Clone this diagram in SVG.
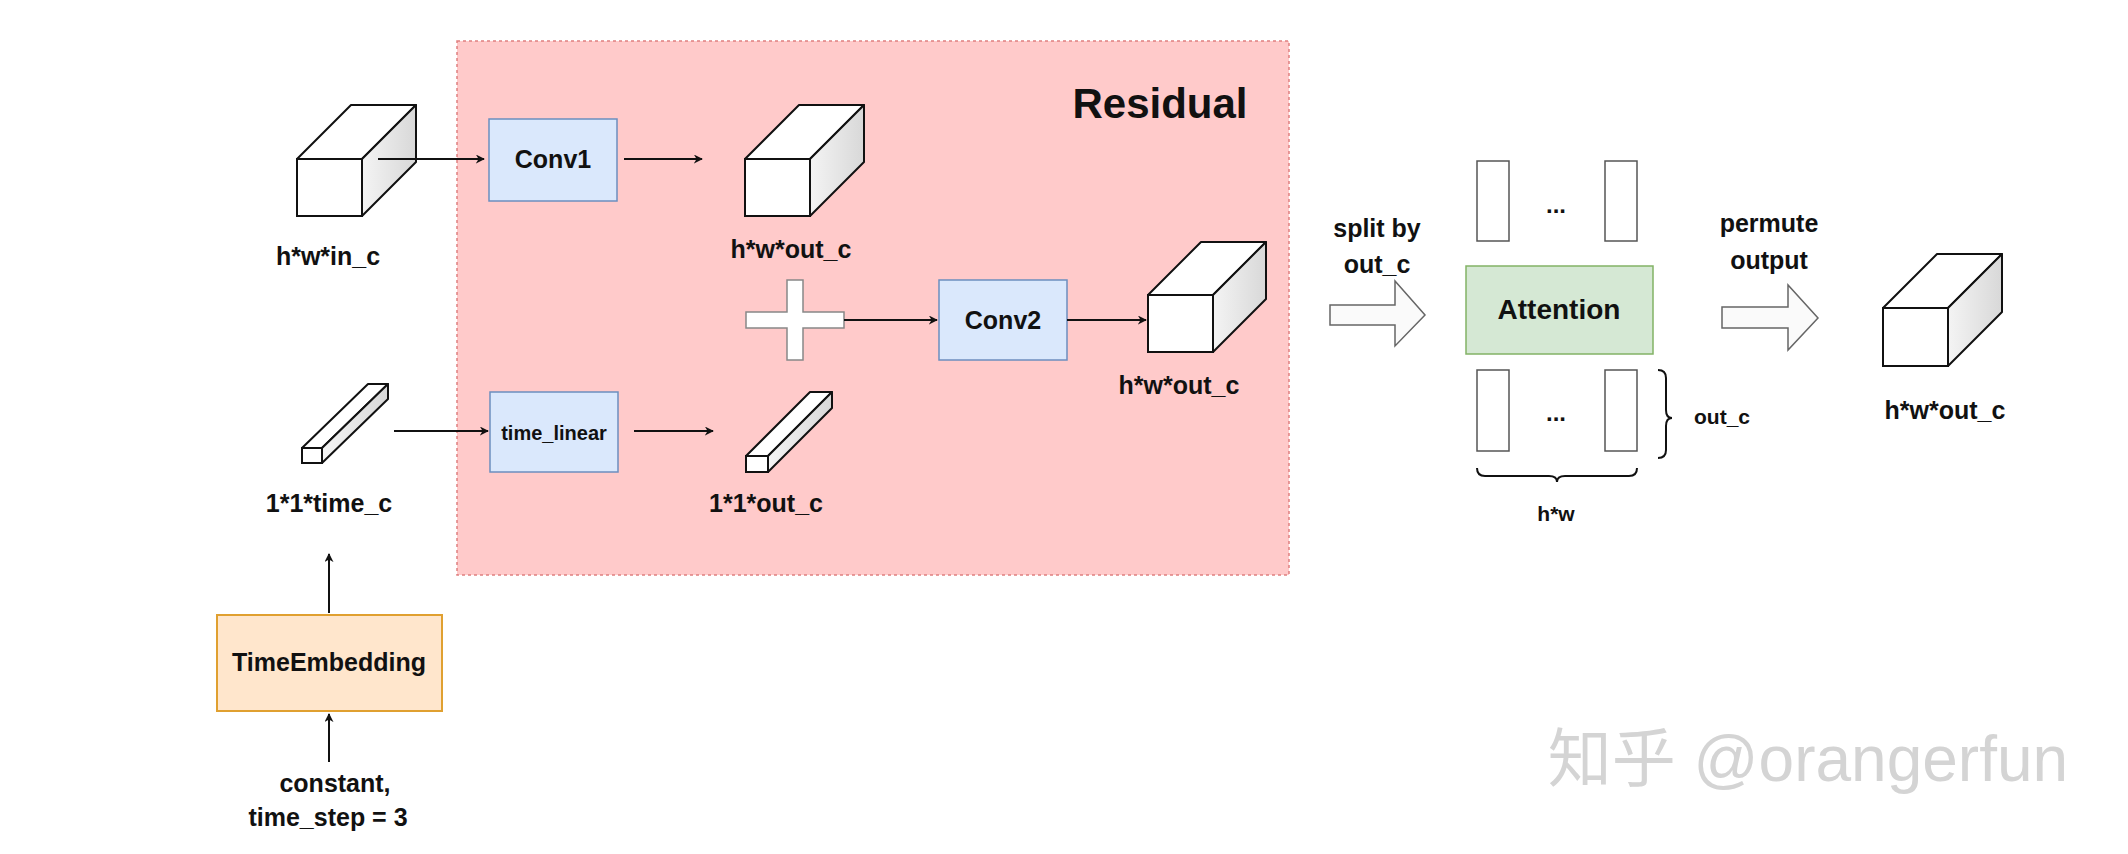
<svg xmlns="http://www.w3.org/2000/svg" width="2128" height="854" viewBox="0 0 2128 854">
<style>
text{font-family:"Liberation Sans",Arial,sans-serif;font-weight:bold;fill:#111;text-anchor:middle}
.lbl{font-size:25px}
.front{fill:#fff;stroke:#111;stroke-width:2}
.top{fill:#fff;stroke:#111;stroke-width:2;stroke-linejoin:round}
.side{fill:url(#sg);stroke:#111;stroke-width:2;stroke-linejoin:round}
.blue{fill:#dae8fc;stroke:#6c8ebf;stroke-width:1.5}
.ln{stroke:#111;stroke-width:2;fill:none}
.bar{fill:#fff;stroke:#555;stroke-width:1.5}
.hollow{fill:#fafafa;stroke:#666;stroke-width:1.5}
</style>
<defs>
<linearGradient id="sg" x1="0" y1="0" x2="1" y2="0"><stop offset="0" stop-color="#f4f4f4"/><stop offset="1" stop-color="#d8d8d8"/></linearGradient>
<marker id="ah" viewBox="0 0 10 10" refX="9" refY="5" markerWidth="9" markerHeight="9" orient="auto" markerUnits="userSpaceOnUse"><path d="M0,0 L10,5 L0,10 L3,5 Z" fill="#111"/></marker>
</defs>
<rect width="2128" height="854" fill="#fff"/>
<g id="residual">
<rect x="457" y="41" width="832" height="534" fill="#ffcaca" stroke="#e08080" stroke-width="1.5" stroke-dasharray="3,3"/>
<text x="1160" y="118" style="font-size:42px">Residual</text>
</g>
<g id="cube_in">
<rect class="front" x="297" y="159" width="65" height="57"/>
<polygon class="top" points="297,159 351,105 416,105 362,159"/>
<polygon class="side" points="362,159 416,105 416,162 362,216"/>
<text class="lbl" x="328" y="265">h*w*in_c</text>
</g>
<g id="conv1"><rect class="blue" x="489" y="119" width="128" height="82"/><text x="553" y="168" style="font-size:25px">Conv1</text></g>
<g id="cube_mid">
<rect class="front" x="745" y="159" width="65" height="57"/>
<polygon class="top" points="745,159 799,105 864,105 810,159"/>
<polygon class="side" points="810,159 864,105 864,162 810,216"/>
<text class="lbl" x="791" y="258">h*w*out_c</text>
</g>
<g id="plus"><path d="M787,280 H803 V312 H844 V328 H803 V360 H787 V328 H746 V312 H787 Z" fill="#fff" stroke="#888" stroke-width="1.5"/></g>
<g id="conv2"><rect class="blue" x="939" y="280" width="128" height="80"/><text x="1003" y="329" style="font-size:25px">Conv2</text></g>
<g id="cube_res">
<rect class="front" x="1148" y="295" width="65" height="57"/>
<polygon class="top" points="1148,295 1201,242 1266,242 1213,295"/>
<polygon class="side" points="1213,295 1266,242 1266,299 1213,352"/>
<text class="lbl" x="1179" y="394">h*w*out_c</text>
</g>
<g id="bar_time">
<rect class="front" x="302" y="448" width="20" height="15" stroke-width="1.5"/>
<polygon class="top" points="302,448 368,384 388,384 322,448" stroke-width="1.5"/>
<polygon class="side" points="322,448 388,384 388,399 322,463" stroke-width="1.5"/>
<text class="lbl" x="329" y="512">1*1*time_c</text>
</g>
<g id="time_linear"><rect class="blue" x="490" y="392" width="128" height="80"/><text x="554" y="440" style="font-size:20px">time_linear</text></g>
<g id="bar_out">
<rect class="front" x="746" y="456" width="22" height="16" stroke-width="1.5"/>
<polygon class="top" points="746,456 810,392 832,392 768,456" stroke-width="1.5"/>
<polygon class="side" points="768,456 832,392 832,408 768,472" stroke-width="1.5"/>
<text class="lbl" x="766" y="512">1*1*out_c</text>
</g>
<g id="time_embedding"><rect x="217" y="615" width="225" height="96" fill="#ffe6cc" stroke="#e0a030" stroke-width="2"/><text x="329" y="671" style="font-size:25px">TimeEmbedding</text></g>
<g id="constant"><text class="lbl" x="335" y="792">constant,</text><text class="lbl" x="328" y="826">time_step = 3</text></g>
<g id="split_label"><text class="lbl" x="1377" y="237">split by</text><text class="lbl" x="1377" y="273">out_c</text></g>
<g id="attention_group">
<rect class="bar" x="1477" y="161" width="32" height="80"/>
<rect class="bar" x="1605" y="161" width="32" height="80"/>
<text x="1556" y="213" style="font-size:24px">...</text>
<rect x="1466" y="266" width="187" height="88" fill="#d5e8d4" stroke="#82b366" stroke-width="1.5"/>
<text x="1559" y="319" style="font-size:28px">Attention</text>
<rect class="bar" x="1477" y="370" width="32" height="81"/>
<rect class="bar" x="1605" y="370" width="32" height="81"/>
<text x="1556" y="421" style="font-size:24px">...</text>
<path d="M1658,370 q8,0 8,8 v32 q0,8 6,8 q-6,0 -6,8 v24 q0,8 -8,8" class="ln" stroke-width="1.5"/>
<text x="1722" y="424" style="font-size:21px">out_c</text>
<path d="M1477,468 q0,8 8,8 h64 q8,0 8,6 q0,-6 8,-6 h64 q8,0 8,-8" class="ln" stroke-width="1.5"/>
<text x="1556" y="521" style="font-size:21px">h*w</text>
</g>
<g id="permute_label"><text class="lbl" x="1769" y="232">permute</text><text class="lbl" x="1769" y="269">output</text></g>
<g id="cube_out">
<rect class="front" x="1883" y="308" width="65" height="58"/>
<polygon class="top" points="1883,308 1937,254 2002,254 1948,308"/>
<polygon class="side" points="1948,308 2002,254 2002,312 1948,366"/>
<text class="lbl" x="1945" y="419">h*w*out_c</text>
</g>
<g id="connectors">
<line class="ln" x1="378" y1="159" x2="484" y2="159" marker-end="url(#ah)"/>
<line class="ln" x1="624" y1="159" x2="702" y2="159" marker-end="url(#ah)"/>
<line class="ln" x1="844" y1="320" x2="937" y2="320" marker-end="url(#ah)"/>
<line class="ln" x1="1067" y1="320" x2="1146" y2="320" marker-end="url(#ah)"/>
<line class="ln" x1="394" y1="431" x2="488" y2="431" marker-end="url(#ah)"/>
<line class="ln" x1="634" y1="431" x2="713" y2="431" marker-end="url(#ah)"/>
<line class="ln" x1="329" y1="613" x2="329" y2="554" marker-end="url(#ah)"/>
<line class="ln" x1="329" y1="762" x2="329" y2="714" marker-end="url(#ah)"/>
<path class="hollow" d="M1330,305 H1395 V281 L1425,315 L1395,346 V325 H1330 Z"/>
<path class="hollow" d="M1722,307 H1788 V285 L1818,318 L1788,350 V328 H1722 Z"/>
</g>
<text x="1808" y="781" style="font-size:64px;font-weight:normal;fill:#d4d4d4;font-family:'Liberation Sans','Noto Sans CJK SC',sans-serif">知乎 @orangerfun</text>
</svg>
